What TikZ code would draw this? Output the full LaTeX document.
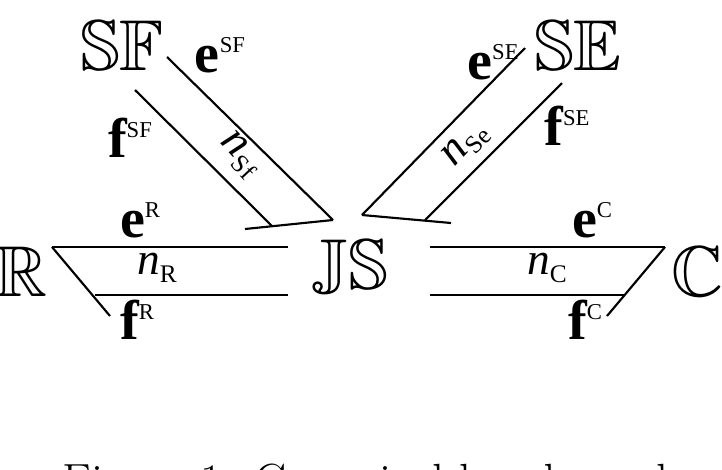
\documentclass[tikz,border=0pt]{standalone}
\usepackage{amssymb}
\usepackage{graphicx}
\usepackage{fontspec}
\setmainfont{Liberation Serif}
\newfontfamily\lmr{Latin Modern Roman}
\newcommand{\bb}[1]{\scalebox{5.4}{$\mathbb{#1}$}}
\newcommand{\ef}[2]{{\fontsize{42}{42}\selectfont\bfseries #1}\raisebox{15pt}{\fontsize{17}{17}\selectfont #2}}
\newcommand{\nsub}[1]{{\fontsize{34}{34}\selectfont\itshape n}\raisebox{-6pt}{\fontsize{19}{19}\selectfont #1}}
\tikzset{bond/.style={line width=1.6pt},lab/.style={inner sep=0pt}}
\begin{document}
\begin{tikzpicture}[x=0.75pt,y=-0.75pt]
\path[use as bounding box,clip] (0,0) rectangle (722,469);
% nodes
\node[lab] (R) at (21,272) {\bb{R}};
\node[lab] (JS) at (350,271) {\bb{JS}};
\node[lab] (C) at (697,272) {\bb{C}};
\node[lab] (SF) at (122,46) {\bb{SF}};
\node[lab] (SE) at (578,46) {\bb{SE}};
% coordinates
\coordinate (r1) at (52,247); \coordinate (r2) at (288,247);
\coordinate (r3) at (95,295); \coordinate (r4) at (288,295);
\coordinate (r5) at (110,316);
\coordinate (c1) at (665,247); \coordinate (c2) at (430,247);
\coordinate (c3) at (625,295); \coordinate (c4) at (430,295);
\coordinate (c5) at (607,316);
\coordinate (f1) at (167,57); \coordinate (f2) at (333,220);
\coordinate (f3) at (135,90); \coordinate (f4) at (272,226);
\coordinate (f5) at (245,229);
\coordinate (s1) at (525,48); \coordinate (s2) at (362,215);
\coordinate (s3) at (562,83); \coordinate (s4) at (425,220);
\coordinate (s5) at (451,223);
% bonds
\draw[bond] (r1) -- (r2); \draw[bond] (r3) -- (r4); \draw[bond] (r1) -- (r5);
\draw[bond] (c1) -- (c2); \draw[bond] (c3) -- (c4); \draw[bond] (c1) -- (c5);
\draw[bond] (f1) -- (f2); \draw[bond] (f3) -- (f4); \draw[bond] (f5) -- (f2);
\draw[bond] (s1) -- (s2); \draw[bond] (s3) -- (s4); \draw[bond] (s2) -- (s5);
% labels
\node[lab] (eR) at (140,220) {\ef{e}{R}};
\node[lab] (fR) at (137,320) {\ef{f}{R}};
\node[lab] (nR) at (157,268) {\nsub{R}};
\node[lab] (eC) at (592,220) {\ef{e}{C}};
\node[lab] (fC) at (585,320) {\ef{f}{C}};
\node[lab] (nC) at (547,268) {\nsub{C}};
\node[lab] (eSF) at (220,55) {\ef{e}{SF}};
\node[lab] (fSF) at (130,138) {\ef{f}{SF}};
\node[lab,rotate=-47] (nSF) at (240,155) {\nsub{Sf}};
\node[lab] (eSE) at (493,62) {\ef{e}{SE}};
\node[lab] (fSE) at (567,126) {\ef{f}{SE}};
\node[lab,rotate=47] (nSE) at (466,145) {\nsub{Se}};
\node[lab,anchor=base west] (cap) at (62,497) {\lmr\fontsize{36}{36}\selectfont Figure 1: Canonical bond graph};
\end{tikzpicture}
\end{document}
